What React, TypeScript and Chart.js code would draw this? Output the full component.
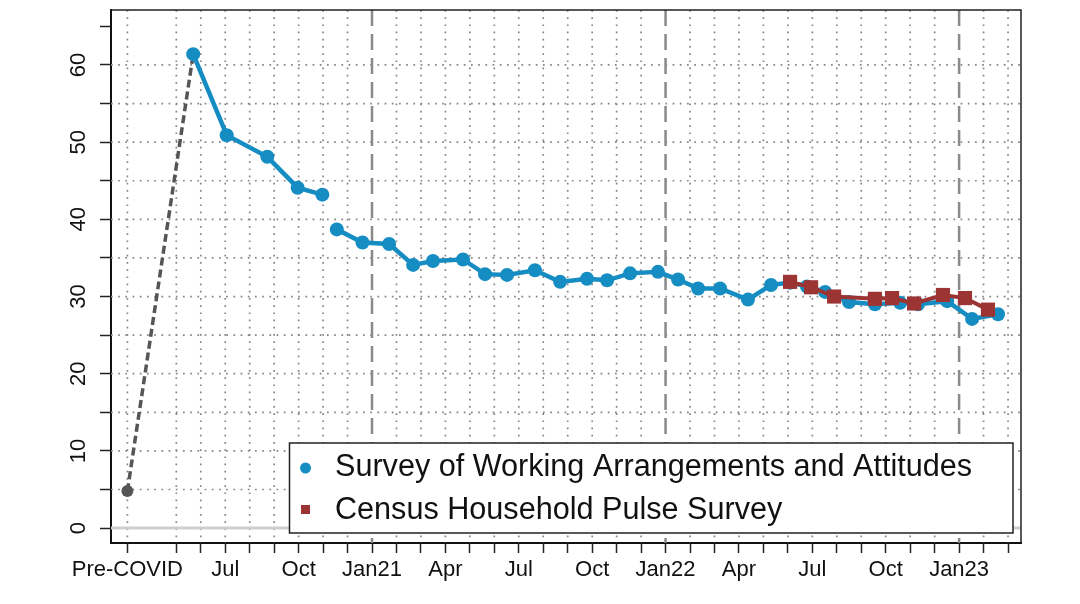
import React, { useEffect, useRef } from 'react';
import { Chart, registerables } from 'chart.js';

Chart.register(...registerables);

// x values are months counted from Jan 2020 (Jan 2020 = 0)
const preMonths = [2, 4.69];
const preValues = [4.8, 61.4];

const swaaMonths = [4.69, 6.06, 7.72, 8.96, 9.97, 10.3, 10.56, 11.61, 12.7, 13.68, 14.49, 15.72, 16.62, 17.52, 18.66, 19.69, 20.79, 21.61, 22.55, 23.69, 24.51, 25.33, 26.23, 27.37, 28.31, 29.09, 29.78, 30.52, 31.5, 32.56, 33.59, 34.32, 35.51, 36.53, 37.59];
const swaaValues: (number | null)[] = [61.4, 50.9, 48.1, 44.1, 43.2, null, 38.7, 37.0, 36.8, 34.1, 34.6, 34.8, 32.9, 32.8, 33.4, 31.9, 32.3, 32.1, 33.0, 33.2, 32.2, 31.05, 31.05, 29.6, 31.5, 31.8, 31.3, 30.6, 29.3, 29.0, 29.2, 29.0, 29.4, 27.1, 27.7];

const pulseMonths = [29.09, 29.95, 30.89, 32.56, 33.26, 34.16, 35.34, 36.24, 37.18];
const pulseValues = [31.9, 31.2, 30.0, 29.7, 29.8, 29.1, 30.2, 29.8, 28.3];

const monthTicks = [2, 4, 5, 6, 7, 8, 9, 10, 11, 12, 13, 14, 15, 16, 17, 18, 19, 20, 21, 22, 23, 24, 25, 26, 27, 28, 29, 30, 31, 32, 33, 34, 35, 36, 37, 38];
const xLabelPos = [2, 6, 9, 12, 15, 18, 21, 24, 27, 30, 33, 36];
const xLabelText = ['Pre-COVID', 'Jul', 'Oct', 'Jan21', 'Apr', 'Jul', 'Oct', 'Jan22', 'Apr', 'Jul', 'Oct', 'Jan23'];
const yearLines = [12, 24, 36];

const yTickValues = [0, 5, 10, 15, 20, 25, 30, 35, 40, 45, 50, 55, 60, 65];
const yLabelValues = [0, 10, 20, 30, 40, 50, 60];
const yGridValues = [5, 10, 15, 20, 25, 30, 35, 40, 45, 50, 55, 60];

const legendLabels = ['Survey of Working Arrangements and Attitudes', 'Census Household Pulse Survey'];

const BLUE = '#168dc2';
const RED = '#9c3434';
const GRAY = '#555555';
const FONT = '"Liberation Sans", Arial, Helvetica, sans-serif';

export default function App() {
  const ref = useRef<HTMLCanvasElement>(null);

  useEffect(() => {
    const canvas = ref.current;
    if (!canvas) return;

    const gridPlugin = {
      id: 'customGrid',
      beforeDatasetsDraw(chart: any) {
        const { ctx, chartArea: a, scales } = chart;
        const x = scales.x;
        const y = scales.y;
        ctx.save();
        ctx.beginPath();
        ctx.rect(a.left, a.top, a.right - a.left, a.bottom - a.top);
        ctx.clip();
        ctx.strokeStyle = '#858585';
        ctx.lineWidth = 1.7;
        ctx.setLineDash([1.7, 5.5]);
        ctx.beginPath();
        for (const v of yGridValues) {
          const py = y.getPixelForValue(v);
          ctx.moveTo(a.left, py);
          ctx.lineTo(a.right, py);
        }
        for (const m of monthTicks) {
          if (yearLines.includes(m)) continue;
          const px = x.getPixelForValue(m);
          ctx.moveTo(px, a.top);
          ctx.lineTo(px, a.bottom);
        }
        ctx.stroke();
        ctx.setLineDash([16, 8]);
        ctx.strokeStyle = '#8a8a8a';
        ctx.lineWidth = 2.5;
        ctx.beginPath();
        for (const m of yearLines) {
          const px = x.getPixelForValue(m);
          ctx.moveTo(px, a.top);
          ctx.lineTo(px, a.bottom);
        }
        ctx.stroke();
        ctx.setLineDash([]);
        ctx.strokeStyle = '#cfcfcf';
        ctx.lineWidth = 3;
        ctx.beginPath();
        const y0 = y.getPixelForValue(0);
        ctx.moveTo(a.left, y0);
        ctx.lineTo(a.right, y0);
        ctx.stroke();
        ctx.restore();
      },
    };

    const overlayPlugin = {
      id: 'overlay',
      afterDraw(chart: any) {
        const { ctx, chartArea: a, scales } = chart;
        const y = scales.y;
        ctx.save();
        // frame top & right
        ctx.strokeStyle = '#222';
        ctx.lineWidth = 1.5;
        ctx.beginPath();
        ctx.moveTo(a.left, a.top);
        ctx.lineTo(a.right, a.top);
        ctx.lineTo(a.right, a.bottom);
        ctx.stroke();
        // y labels rotated
        ctx.fillStyle = '#111';
        ctx.font = `22px ${FONT}`;
        ctx.textAlign = 'center';
        ctx.textBaseline = 'middle';
        for (const v of yLabelValues) {
          const py = y.getPixelForValue(v);
          ctx.save();
          ctx.translate(79, py);
          ctx.rotate(-Math.PI / 2);
          ctx.fillText(String(v), 0, 0);
          ctx.restore();
        }
        // legend
        const lx = 289.5, ly = 443, lw = 723.5, lh = 90;
        ctx.fillStyle = '#ffffff';
        ctx.fillRect(lx, ly, lw, lh);
        ctx.strokeStyle = '#222';
        ctx.lineWidth = 1.5;
        ctx.strokeRect(lx, ly, lw, lh);
        ctx.fillStyle = BLUE;
        ctx.beginPath();
        ctx.arc(305.5, 468, 5.5, 0, Math.PI * 2);
        ctx.fill();
        ctx.fillStyle = RED;
        ctx.fillRect(301, 505, 9, 9);
        ctx.fillStyle = '#111';
        ctx.font = `30.6px ${FONT}`;
        ctx.textAlign = 'left';
        ctx.textBaseline = 'middle';
        ctx.fillText(legendLabels[0], 335, 468);
        ctx.fillText(legendLabels[1], 335, 511);
        ctx.restore();
      },
    };

    const chart = new Chart(canvas, {
      type: 'line',
      data: {
        datasets: [
          {
            label: legendLabels[1],
            data: pulseMonths.map((m, i) => ({ x: m, y: pulseValues[i] })),
            borderColor: RED,
            backgroundColor: RED,
            borderWidth: 4,
            pointStyle: 'rect',
            pointRadius: 10,
            pointBorderWidth: 0,
            pointBackgroundColor: RED,
            order: 1,
          },
          {
            label: legendLabels[0],
            data: swaaMonths.map((m, i) => ({ x: m, y: swaaValues[i] })),
            borderColor: BLUE,
            backgroundColor: BLUE,
            borderWidth: 4.5,
            pointStyle: 'circle',
            pointRadius: 7,
            pointBorderWidth: 0,
            pointBackgroundColor: BLUE,
            spanGaps: false,
            order: 2,
          },
          {
            label: 'Pre-COVID',
            data: preMonths.map((m, i) => ({ x: m, y: preValues[i] })),
            borderColor: GRAY,
            backgroundColor: GRAY,
            borderWidth: 3.5,
            borderDash: [8, 4],
            pointRadius: [6, 0],
            pointBorderWidth: 0,
            pointBackgroundColor: GRAY,
            order: 3,
          },
        ] as any,
      },
      options: {
        animation: false,
        responsive: false,
        maintainAspectRatio: false,
        layout: { padding: { top: 7, right: 59, left: 0, bottom: 0 } },
        plugins: { legend: { display: false }, tooltip: { enabled: false } },
        scales: {
          x: {
            type: 'linear',
            min: 1.33,
            max: 38.53,
            afterBuildTicks: (s: any) => {
              s.ticks = monthTicks.map((v) => ({ value: v }));
            },
            afterFit: (s: any) => {
              s.height = 61;
            },
            ticks: {
              autoSkip: false,
              maxRotation: 0,
              minRotation: 0,
              padding: 4,
              color: '#111',
              font: { family: FONT, size: 22 },
              callback: (v: any) => {
                const i = xLabelPos.indexOf(Number(v));
                return i >= 0 ? xLabelText[i] : '';
              },
            },
            grid: {
              drawOnChartArea: false,
              drawTicks: true,
              tickLength: 10,
              tickColor: '#222',
              tickWidth: 1.5,
            },
            border: { color: '#111', width: 2 },
          },
          y: {
            type: 'linear',
            min: -1.93,
            max: 67.12,
            afterBuildTicks: (s: any) => {
              s.ticks = yTickValues.map((v) => ({ value: v }));
            },
            afterFit: (s: any) => {
              s.width = 111;
            },
            ticks: { display: false },
            grid: {
              drawOnChartArea: false,
              drawTicks: true,
              tickLength: 11,
              tickColor: '#222',
              tickWidth: 1.5,
            },
            border: { color: '#111', width: 2 },
          },
        },
      } as any,
      plugins: [gridPlugin, overlayPlugin],
    });

    return () => chart.destroy();
  }, []);

  return (
    <div style={{ position: 'fixed', left: 0, top: 0, width: 1080, height: 604, background: '#ffffff' }}>
      <canvas ref={ref} width={1080} height={604} style={{ width: 1080, height: 604, display: 'block' }} />
    </div>
  );
}
